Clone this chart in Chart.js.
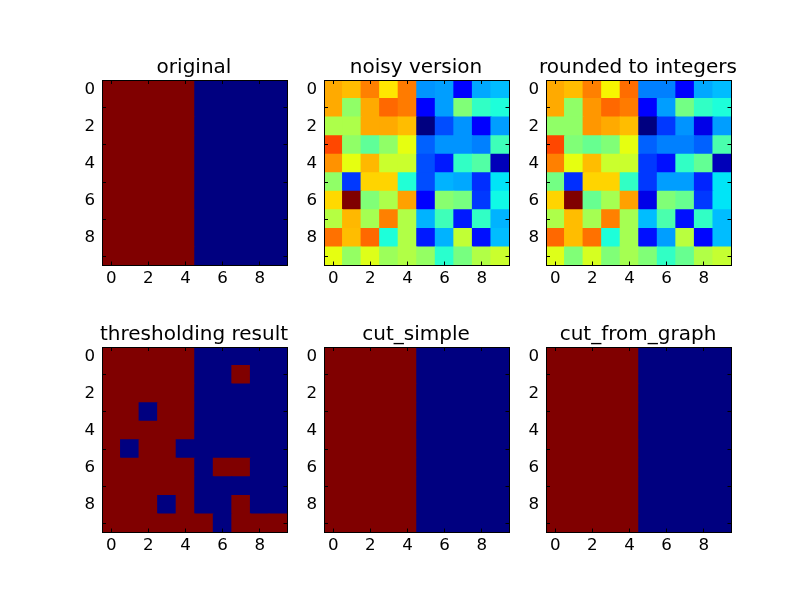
<!DOCTYPE html>
<html>
<head>
<meta charset="utf-8">
<title>Graph cut denoising</title>
<script src="https://cdn.jsdelivr.net/npm/chart.js@4/dist/chart.umd.min.js"></script>
<style>
html, body { margin: 0; background: #fff; }
body { position: relative; width: 812px; height: 612px; overflow: hidden; }
canvas { position: absolute; }
</style>
</head>
<body>
<script>
const tickValues = [0, 2, 4, 6, 8];

const original = [
    [1, 1, 1, 1, 1, 0, 0, 0, 0, 0],
    [1, 1, 1, 1, 1, 0, 0, 0, 0, 0],
    [1, 1, 1, 1, 1, 0, 0, 0, 0, 0],
    [1, 1, 1, 1, 1, 0, 0, 0, 0, 0],
    [1, 1, 1, 1, 1, 0, 0, 0, 0, 0],
    [1, 1, 1, 1, 1, 0, 0, 0, 0, 0],
    [1, 1, 1, 1, 1, 0, 0, 0, 0, 0],
    [1, 1, 1, 1, 1, 0, 0, 0, 0, 0],
    [1, 1, 1, 1, 1, 0, 0, 0, 0, 0],
    [1, 1, 1, 1, 1, 0, 0, 0, 0, 0]
];

const noisy = [
    [.73, .71, .775, .665, .78, .27, .28, .11, .29, .31],
    [.73, .525, .73, .80, .78, .11, .28, .505, .41, .385],
    [.56, .56, .73, .73, .71, .00, .20, .27, .11, .28],
    [.835, .525, .465, .525, .63, .22, .27, .27, .25, .425],
    [.755, .63, .715, .595, .595, .20, .15, .41, .45, .05],
    [.525, .18, .685, .685, .39, .20, .30, .29, .17, .35],
    [.68, 1.0, .505, .56, .74, .11, .515, .495, .18, .37],
    [.57, .715, .55, .775, .565, .30, .425, .15, .41, .30],
    [.79, .71, .80, .385, .565, .15, .30, .585, .14, .31],
    [.63, .53, .62, .54, .565, .53, .40, .495, .565, .595]
];

const rounded = [
    [.73, .71, .775, .65, .795, .25, .25, .11, .29, .31],
    [.73, .525, .75, .80, .78, .11, .28, .49, .41, .385],
    [.525, .525, .75, .73, .71, .00, .18, .27, .09, .28],
    [.835, .505, .475, .505, .63, .22, .25, .25, .22, .44],
    [.775, .63, .71, .595, .595, .18, .14, .41, .47, .05],
    [.49, .17, .685, .685, .41, .18, .28, .28, .16, .35],
    [.685, 1.0, .475, .55, .74, .09, .505, .475, .18, .35],
    [.56, .71, .55, .775, .55, .31, .44, .14, .41, .31],
    [.80, .71, .79, .385, .55, .14, .28, .575, .13, .31],
    [.62, .505, .61, .505, .55, .505, .41, .475, .565, .59]
];

const thresholded = [
    [1, 1, 1, 1, 1, 0, 0, 0, 0, 0],
    [1, 1, 1, 1, 1, 0, 0, 1, 0, 0],
    [1, 1, 1, 1, 1, 0, 0, 0, 0, 0],
    [1, 1, 0, 1, 1, 0, 0, 0, 0, 0],
    [1, 1, 1, 1, 1, 0, 0, 0, 0, 0],
    [1, 0, 1, 1, 0, 0, 0, 0, 0, 0],
    [1, 1, 1, 1, 1, 0, 1, 1, 0, 0],
    [1, 1, 1, 1, 1, 0, 0, 0, 0, 0],
    [1, 1, 1, 0, 1, 0, 0, 1, 0, 0],
    [1, 1, 1, 1, 1, 1, 0, 1, 1, 1]
];

const cutSimple = original;
const cutFromGraph = original;

const panels = [
    { title: 'original', cells: original, left: 102, top: 80 },
    { title: 'noisy version', cells: noisy, left: 324, top: 80 },
    { title: 'rounded to integers', cells: rounded, left: 546, top: 80 },
    { title: 'thresholding result', cells: thresholded, left: 102, top: 347 },
    { title: 'cut_simple', cells: cutSimple, left: 324, top: 347 },
    { title: 'cut_from_graph', cells: cutFromGraph, left: 546, top: 347 }
];

const SIZE = 186;
const SIDE = 52;
const TOP = 40;
const BOTTOM = 40;

// jet colormap, matplotlib segment table
const jetRed = [[0, 0], [.35, 0], [.66, 1], [.89, 1], [1, .5]];
const jetGreen = [[0, 0], [.125, 0], [.375, 1], [.64, 1], [.91, 0], [1, 0]];
const jetBlue = [[0, .5], [.11, 1], [.34, 1], [.65, 0], [1, 0]];

function channel(table, v) {
    for (let i = 1; i < table.length; i++) {
        if (v <= table[i][0]) {
            const t = (v - table[i - 1][0]) / (table[i][0] - table[i - 1][0]);
            return Math.round(255 * (table[i - 1][1] + t * (table[i][1] - table[i - 1][1])));
        }
    }
    return Math.round(255 * table[table.length - 1][1]);
}

function jet(v) {
    return 'rgb(' + channel(jetRed, v) + ',' + channel(jetGreen, v) + ',' + channel(jetBlue, v) + ')';
}

function setTicks(scale) {
    scale.ticks = tickValues.map(v => ({ value: v }));
}

function axis(position, showLabels, reverse, fit, pad) {
    return {
        type: 'linear',
        axis: position === 'top' || position === 'bottom' ? 'x' : 'y',
        position: position,
        min: -0.5,
        max: 9.5,
        reverse: reverse,
        offset: false,
        afterBuildTicks: setTicks,
        afterFit: fit,
        border: { display: true, color: '#000', width: 1, z: 1 },
        grid: {
            drawOnChartArea: false,
            drawTicks: true,
            tickLength: -4,
            tickColor: '#000',
            tickWidth: 1,
            z: 1
        },
        ticks: {
            display: showLabels,
            padding: pad,
            maxRotation: 0,
            minRotation: 0,
            color: '#000',
            font: { family: 'DejaVu Sans', size: 16.67 },
            callback: v => String(v)
        }
    };
}

panels.forEach(panel => {
    const canvas = document.createElement('canvas');
    canvas.width = SIZE + 2 * SIDE - 2;
    canvas.height = SIZE + TOP + BOTTOM;
    canvas.style.left = (panel.left - SIDE) + 'px';
    canvas.style.top = (panel.top - TOP) + 'px';
    document.body.appendChild(canvas);

    const points = [];
    const colors = [];
    panel.cells.forEach((row, r) => {
        row.forEach((value, c) => {
            points.push({ x: [c - 0.5, c + 0.5], y: r });
            colors.push(jet(value));
        });
    });

    new Chart(canvas, {
        type: 'bar',
        data: {
            datasets: [{
                data: points,
                backgroundColor: colors,
                borderWidth: 0,
                inflateAmount: 0.5, // no seams between cells
                barPercentage: 1,
                categoryPercentage: 1
            }]
        },
        options: {
            indexAxis: 'y',
            responsive: false,
            animation: false,
            layout: { padding: 0 },
            plugins: {
                legend: { display: false },
                tooltip: { enabled: false },
                title: {
                    display: true,
                    text: panel.title,
                    color: '#000',
                    font: { family: 'DejaVu Sans', size: 20, weight: 'normal', lineHeight: '24px' },
                    padding: { top: 16, bottom: 0 }
                }
            },
            scales: {
                x: axis('bottom', true, false, s => { s.height = BOTTOM + 0.5; }, 7),
                y: axis('left', true, true, s => { s.width = SIDE; }, 11),
                x2: axis('top', false, false, s => { s.height = 0; }, 7),
                y2: axis('right', false, true, s => { s.width = SIDE - 1.5; }, 7)
            }
        }
    });
});
</script>
</body>
</html>
